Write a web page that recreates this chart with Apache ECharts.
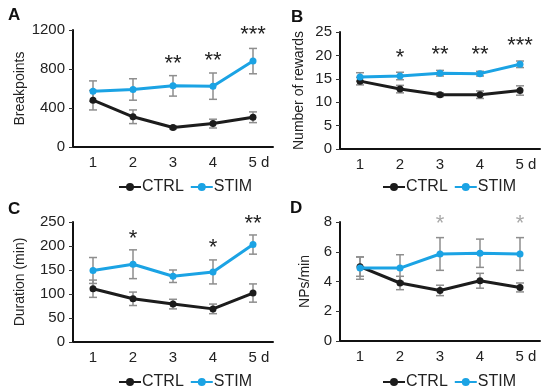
<!DOCTYPE html>
<html><head><meta charset="utf-8">
<script src="https://cdn.jsdelivr.net/npm/echarts@6/dist/echarts.min.js"></script>
<style>html,body{margin:0;padding:0;background:#fff}#c{width:554px;height:390px}</style>
</head><body><div id="c"></div>
<script>
const days = ['1', '2', '3', '4', '5'];
const dayLabels = ['1', '2', '3', '4', '5 d'];
const seriesNames = ['CTRL', 'STIM'];

// Panel A: Breakpoints
const ctrlA = [480, 310, 200, 240, 305];
const ctrlAErr = [100, 70, 15, 45, 55];
const stimA = [573, 590, 627, 624, 881];
const stimAErr = [105, 110, 105, 135, 130];
const starsA = ['', '', '**', '**', '***'];
const starPosA = [null, null, 850, 880, 1150];
const ticksA = [0, 400, 800, 1200];

// Panel B: Number of rewards
const ctrlB = [14.5, 12.8, 11.6, 11.6, 12.5];
const ctrlBErr = [0.8, 0.8, 0.4, 0.8, 1.0];
const stimB = [15.4, 15.6, 16.2, 16.1, 18.1];
const stimBErr = [0.9, 0.8, 0.6, 0.5, 0.7];
const starsB = ['', '*', '**', '**', '***'];
const starPosB = [null, 19.5, 20, 20, 22];
const ticksB = [0, 5, 10, 15, 20, 25];

// Panel C: Duration (min)
const ctrlC = [111, 90, 79, 69, 102];
const ctrlCErr = [18, 14, 10, 10, 19];
const stimC = [149, 162, 137, 146, 203];
const stimCErr = [27, 30, 13, 25, 20];
const starsC = ['', '*', '', '*', '**'];
const starPosC = [null, 215, null, 195, 245];
const ticksC = [0, 50, 100, 150, 200, 250];

// Panel D: NPs/min
const ctrlD = [5.0, 3.9, 3.4, 4.05, 3.6];
const ctrlDErr = [0.65, 0.45, 0.35, 0.5, 0.3];
const stimD = [4.9, 4.9, 5.85, 5.9, 5.85];
const stimDErr = [0.75, 0.9, 1.1, 0.95, 1.1];
const starsD = ['', '', '*', '', '*'];
const starPosD = [null, null, 7.9, null, 7.9];
const ticksD = [0, 2, 4, 6, 8];

const FONT = 'Liberation Sans, Arial, sans-serif';
const CTRL_COLOR = '#1c1c1c';
const STIM_COLOR = '#1ba3e4';
const ERR_COLOR = '#8e8e8e';

const panels = [
  {letter: 'A', name: 'Breakpoints', ctrl: ctrlA, ctrlErr: ctrlAErr, stim: stimA, stimErr: stimAErr, stars: starsA, starPos: starPosA, ticks: ticksA, starColor: '#222',
   grid: {left: 73, top: 30, width: 200, height: 117}, nameGap: 46, legend: {left: 113, top: 174}, letterPos: [8, 7]},
  {letter: 'B', name: 'Number of rewards', ctrl: ctrlB, ctrlErr: ctrlBErr, stim: stimB, stimErr: stimBErr, stars: starsB, starPos: starPosB, ticks: ticksB, starColor: '#222',
   grid: {left: 340, top: 32, width: 200, height: 117}, nameGap: 34, legend: {left: 377, top: 174}, letterPos: [291, 9]},
  {letter: 'C', name: 'Duration (min)', ctrl: ctrlC, ctrlErr: ctrlCErr, stim: stimC, stimErr: stimCErr, stars: starsC, starPos: starPosC, ticks: ticksC, starColor: '#222',
   grid: {left: 73, top: 222, width: 200, height: 120}, nameGap: 46, legend: {left: 113, top: 369}, letterPos: [8, 201]},
  {letter: 'D', name: 'NPs/min', ctrl: ctrlD, ctrlErr: ctrlDErr, stim: stimD, stimErr: stimDErr, stars: starsD, starPos: starPosD, ticks: ticksD, starColor: '#a9a9a9',
   grid: {left: 340, top: 222, width: 200, height: 119}, nameGap: 28, legend: {left: 377, top: 369}, letterPos: [290, 200]}
];

const grids = [], xAxes = [], yAxes = [], series = [], legends = [], graphics = [];

function errSeries(i, vals, errs) {
  return {
    type: 'custom', xAxisIndex: i, yAxisIndex: i, z: 1, silent: true,
    data: vals.map((v, k) => [k, v, errs[k]]),
    encode: {x: 0, y: 1},
    renderItem: function (params, api) {
      const x = api.value(0), v = api.value(1), e = api.value(2);
      const top = api.coord([x, v + e]);
      const bot = api.coord([x, v - e]);
      const hw = 4;
      const st = {stroke: ERR_COLOR, lineWidth: 1.5};
      return {type: 'group', children: [
        {type: 'line', shape: {x1: top[0], y1: top[1], x2: bot[0], y2: bot[1]}, style: st},
        {type: 'line', shape: {x1: top[0] - hw, y1: top[1], x2: top[0] + hw, y2: top[1]}, style: st},
        {type: 'line', shape: {x1: bot[0] - hw, y1: bot[1], x2: bot[0] + hw, y2: bot[1]}, style: st}
      ]};
    }
  };
}

panels.forEach((p, i) => {
  grids.push(Object.assign({containLabel: false}, p.grid));
  xAxes.push({
    type: 'category', gridIndex: i, data: days, boundaryGap: true,
    axisLine: {lineStyle: {color: '#111', width: 2}},
    axisTick: {alignWithLabel: true, inside: true, length: 4, interval: 0, lineStyle: {color: '#333', width: 1}},
    axisLabel: {
      color: '#222', fontSize: 15, fontFamily: FONT, margin: 8, interval: 0,
      formatter: (val, idx) => idx === 4 ? '{pad|}' + dayLabels[idx] : dayLabels[idx],
      rich: {pad: {width: 12}}
    },
    splitLine: {show: false}
  });
  yAxes.push({
    type: 'value', gridIndex: i, min: p.ticks[0], max: p.ticks[p.ticks.length - 1],
    interval: p.ticks[1] - p.ticks[0],
    name: p.name, nameLocation: 'middle', nameGap: p.nameGap, nameRotate: 90,
    nameTextStyle: {color: '#222', fontSize: 14, fontFamily: FONT},
    axisLine: {show: true, lineStyle: {color: '#111', width: 2}},
    axisTick: {show: true, length: 4, lineStyle: {color: '#333', width: 1}},
    axisLabel: {color: '#222', fontSize: 15, fontFamily: FONT, margin: 8, formatter: v => String(v)},
    splitLine: {show: false}
  });
  series.push(errSeries(i, p.ctrl, p.ctrlErr));
  series.push(errSeries(i, p.stim, p.stimErr));
  series.push({
    type: 'line', name: 'CTRL', xAxisIndex: i, yAxisIndex: i, data: p.ctrl, z: 3,
    symbol: 'circle', symbolSize: 7, lineStyle: {color: CTRL_COLOR, width: 3},
    itemStyle: {color: CTRL_COLOR}, animation: false
  });
  series.push({
    type: 'line', name: 'STIM', xAxisIndex: i, yAxisIndex: i, data: p.stim, z: 4,
    symbol: 'circle', symbolSize: 7, lineStyle: {color: STIM_COLOR, width: 3},
    itemStyle: {color: STIM_COLOR}, animation: false
  });
  const starData = [];
  p.stars.forEach((s, k) => { if (s) starData.push([k, p.starPos[k], k]); });
  const starsArr = p.stars, starColor = p.starColor;
  series.push({
    type: 'custom', xAxisIndex: i, yAxisIndex: i, z: 5, silent: true,
    data: starData, encode: {x: 0, y: 1},
    renderItem: function (params, api) {
      const pt = api.coord([api.value(0), api.value(1)]);
      return {type: 'text', x: pt[0], y: pt[1], style: {
        text: starsArr[api.value(2)], fill: starColor,
        font: '22px ' + FONT, align: 'center', verticalAlign: 'middle'
      }};
    }
  });
  legends.push({
    data: seriesNames, left: p.legend.left, top: p.legend.top, orient: 'horizontal',
    itemWidth: 22, itemHeight: 10, itemGap: 6, selectedMode: false,
    textStyle: {color: '#222', fontSize: 16, fontFamily: FONT, padding: [0, 0, 0, -4]}
  });
  graphics.push({
    type: 'text', left: p.letterPos[0], top: p.letterPos[1],
    style: {text: p.letter, font: 'bold 17px ' + FONT, fill: '#111'}
  });
});

const chart = echarts.init(document.getElementById('c'), null, {renderer: 'canvas'});
chart.setOption({
  animation: false,
  backgroundColor: '#fff',
  grid: grids, xAxis: xAxes, yAxis: yAxes, series: series, legend: legends,
  graphic: graphics
});
</script></body></html>
